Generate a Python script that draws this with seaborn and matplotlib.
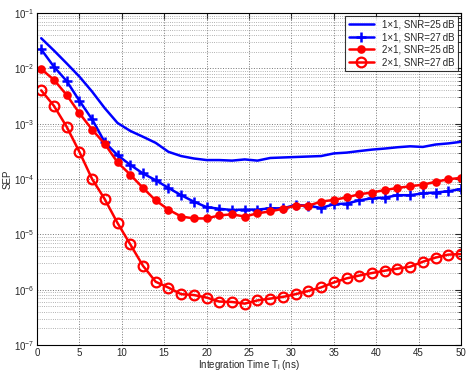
import numpy as np
import pandas as pd
import seaborn as sns
import matplotlib
matplotlib.use("Agg")
import matplotlib.pyplot as plt
from matplotlib.ticker import LogLocator, NullFormatter

# Datos (SEP vs tiempo de integracion, ns)
t_ns = [0.5, 2, 3.5, 5, 6.5, 8, 9.5, 11, 12.5, 14, 15.5, 17, 18.5, 20, 21.5, 23,
        24.5, 26, 27.5, 29, 30.5, 32, 33.5, 35, 36.5, 38, 39.5, 41, 42.5, 44,
        45.5, 47, 48.5, 50]

sep_1x1_25 = [3.5e-2, 2.1e-2, 1.23e-2, 7.1e-3, 3.8e-3, 1.9e-3, 1.03e-3, 7.4e-4,
              5.8e-4, 4.5e-4, 3.1e-4, 2.6e-4, 2.35e-4, 2.2e-4, 2.2e-4, 2.15e-4,
              2.26e-4, 2.15e-4, 2.4e-4, 2.45e-4, 2.5e-4, 2.55e-4, 2.6e-4, 2.9e-4,
              3.0e-4, 3.2e-4, 3.4e-4, 3.55e-4, 3.75e-4, 3.9e-4, 3.8e-4, 4.2e-4,
              4.4e-4, 4.7e-4]

sep_1x1_27 = [2.2e-2, 1.07e-2, 5.9e-3, 2.6e-3, 1.2e-3, 4.6e-4, 2.7e-4, 1.8e-4,
              1.26e-4, 9.5e-5, 6.9e-5, 5.1e-5, 3.9e-5, 3.1e-5, 2.9e-5, 2.75e-5,
              2.8e-5, 2.8e-5, 2.95e-5, 2.95e-5, 3.4e-5, 3.3e-5, 3.0e-5, 3.5e-5,
              3.6e-5, 4.1e-5, 4.5e-5, 4.6e-5, 5.1e-5, 5.1e-5, 5.5e-5, 5.7e-5,
              6.0e-5, 6.6e-5]

sep_2x1_25 = [9.7e-3, 6.2e-3, 3.3e-3, 1.55e-3, 7.8e-4, 4.3e-4, 2.0e-4, 1.2e-4,
              6.9e-5, 4.1e-5, 2.8e-5, 2.1e-5, 1.94e-5, 1.94e-5, 2.2e-5, 2.3e-5,
              2.1e-5, 2.4e-5, 2.6e-5, 2.9e-5, 3.3e-5, 3.3e-5, 3.9e-5, 4.2e-5,
              4.65e-5, 5.3e-5, 5.7e-5, 6.3e-5, 6.9e-5, 7.4e-5, 7.9e-5, 8.9e-5,
              9.9e-5, 1.05e-4]

sep_2x1_27 = [4.0e-3, 2.1e-3, 8.8e-4, 3.1e-4, 1.0e-4, 4.3e-5, 1.6e-5, 6.6e-6,
              2.7e-6, 1.39e-6, 1.09e-6, 8.3e-7, 8.0e-7, 7.2e-7, 6.1e-7, 6.0e-7,
              5.6e-7, 6.4e-7, 6.9e-7, 7.4e-7, 8.3e-7, 9.5e-7, 1.1e-6, 1.35e-6,
              1.6e-6, 1.8e-6, 2.0e-6, 2.2e-6, 2.4e-6, 2.6e-6, 3.2e-6, 3.8e-6,
              4.3e-6, 4.4e-6]

etiquetas = ["1\u00d71, SNR=25\u2009dB", "1\u00d71, SNR=27\u2009dB",
             "2\u00d71, SNR=25\u2009dB", "2\u00d71, SNR=27\u2009dB"]
series = [sep_1x1_25, sep_1x1_27, sep_2x1_25, sep_2x1_27]

# Tabla larga para seaborn
df = pd.concat([pd.DataFrame({"t": t_ns, "sep": s, "serie": lab})
                for s, lab in zip(series, etiquetas)], ignore_index=True)

sns.set_style("white")
plt.rcParams["font.family"] = ["Liberation Sans", "DejaVu Sans"]
plt.rcParams["font.size"] = 7
plt.rcParams["mathtext.fontset"] = "custom"
plt.rcParams["mathtext.rm"] = "Liberation Sans"
plt.rcParams["mathtext.it"] = "Liberation Sans:italic"

fig = plt.figure(figsize=(4.74, 3.76), dpi=100)
ax = fig.add_axes([0.078, 0.0824, 0.8946, 0.883])

colores = dict(zip(etiquetas, ["#0000ff", "#0000ff", "#ff0000", "#ff0000"]))
sns.lineplot(data=df, x="t", y="sep", hue="serie", hue_order=etiquetas,
             palette=colores, linewidth=1.8, ax=ax, legend=False)

# Ajuste de marcadores estilo MATLAB
props = [
    dict(marker="None"),
    dict(marker="+", markersize=7, markeredgewidth=1.8),
    dict(marker="o", markersize=5, markeredgewidth=1.2, markerfacecolor="#ff0000"),
    dict(marker="o", markersize=7, markeredgewidth=1.6, markerfacecolor="none"),
]
for line, lab, p in zip(ax.lines, etiquetas, props):
    c = colores[lab]
    line.set_color(c)
    line.set_markeredgecolor(c)
    line.set_linestyle("-")
    line.set(**p)
    line.set_label(lab)

ax.set_yscale("log")
ax.set_xlim(0, 50)
ax.set_ylim(1e-7, 1e-1)
ax.set_xticks(range(0, 51, 5))
ax.yaxis.set_major_locator(LogLocator(base=10, numticks=10))
ax.yaxis.set_minor_locator(LogLocator(base=10, subs=np.arange(2, 10), numticks=10))
ax.yaxis.set_minor_formatter(NullFormatter())

ax.grid(True, which="major", axis="both", linestyle=":", color="#777777", linewidth=0.7)
ax.grid(True, which="minor", axis="y", linestyle=":", color="#999999", linewidth=0.6)
ax.tick_params(which="both", direction="in", top=True, right=True, labelsize=7, pad=2)
ax.tick_params(which="major", length=4)
ax.tick_params(which="minor", length=2)
for s in ax.spines.values():
    s.set_color("black")
    s.set_linewidth(0.8)

ax.set_xlabel("Integration Time T$_\\mathregular{i}$ (ns)", fontsize=7, labelpad=0)
ax.set_ylabel("SEP", fontsize=7, labelpad=1)

leg = ax.legend(handles=ax.lines[:4], loc="upper right", fontsize=7, frameon=True,
                fancybox=False, borderaxespad=0.3, handlelength=2.6,
                labelspacing=0.25, borderpad=0.4)
leg.get_frame().set_edgecolor("black")
leg.get_frame().set_linewidth(0.8)

fig.savefig("out.png", dpi=100)
